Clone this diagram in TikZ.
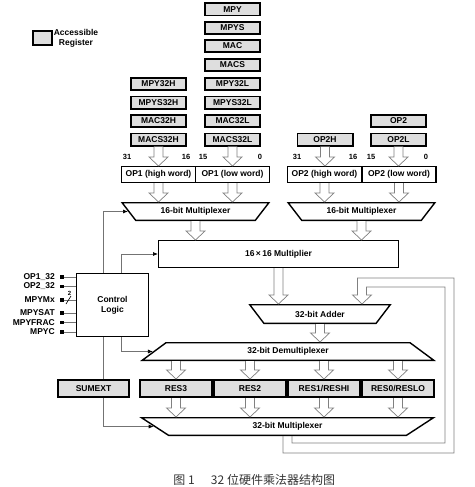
\documentclass[tikz,border=0pt]{standalone}
\usepackage{fontspec}
\setmainfont{Liberation Sans}
\newfontfamily\cjk{Noto Sans CJK SC}
\usetikzlibrary{positioning,calc,shapes.geometric,arrows.meta}
\newcommand{\lbl}{\fontsize{8.5}{10}\selectfont\bfseries}
\newcommand{\bitno}{\fontsize{7.5}{8}\selectfont\bfseries}
\tikzset{
  reg/.style={draw, line width=1.6pt, fill=black!13, minimum width=55.4, minimum height=12.4, inner sep=0, font=\lbl},
  opbox/.style={draw, line width=1.4pt, fill=white, minimum width=73.6, minimum height=15.6, inner sep=0, font=\lbl},
  trap/.style={trapezium, trapezium angle=45, trapezium stretches=true, draw, line width=1.4pt, fill=white, inner sep=0, minimum height=17.6, font=\lbl},
  hollow/.style={draw=black!50, fill=white, line width=0.7pt},
  fbline/.style={draw=black!50, line width=0.7pt},
  ctl/.style={draw=black!55, line width=0.7pt},
  ctltip/.style={-{Latex[length=5pt,width=4pt,color=black]}},
  padsq/.style={fill=black, minimum size=3.5, inner sep=0},
  padlbl/.style={font=\lbl, inner sep=0, anchor=east}
}
\newcommand{\hollowarrow}[2]{\draw[hollow] ($(#1)+(-4.5,0)$) -- ($(#2)+(-4.5,-9)$) -- ($(#2)+(-9.5,-9)$) -- (#2) -- ($(#2)+(9.5,-9)$) -- ($(#2)+(4.5,-9)$) -- ($(#1)+(4.5,0)$);}
\begin{document}
\begin{tikzpicture}[x=1pt,y=-1pt]
\useasboundingbox (0,0) rectangle (474,487);

% legend
\node[reg, minimum width=19.4, minimum height=14.4] (key) at (42.5,38) {};
\node[font=\lbl, align=center, inner sep=0] (keytext) at (76,38) {Accessible\\Register};

% OP1 source registers
\node[reg] (mpy) at (232.5,9.5) {MPY};
\node[reg] (mpys) at (232.5,28) {MPYS};
\node[reg] (mac) at (232.5,46) {MAC};
\node[reg] (macs) at (232.5,65) {MACS};
\node[reg] (mpy32h) at (158.5,84) {MPY32H};
\node[reg] (mpys32h) at (158.5,102.5) {MPYS32H};
\node[reg] (mac32h) at (158.5,121) {MAC32H};
\node[reg] (macs32h) at (158.5,139.5) {MACS32H};
\node[reg] (mpy32l) at (232.5,84) {MPY32L};
\node[reg] (mpys32l) at (232.5,102.5) {MPYS32L};
\node[reg] (mac32l) at (232.5,121) {MAC32L};
\node[reg] (macs32l) at (232.5,139.5) {MACS32L};

% OP2 source registers
\node[reg] (op2h) at (325,139.5) {OP2H};
\node[reg] (op2) at (398.5,121) {OP2};
\node[reg] (op2l) at (398.5,139.5) {OP2L};

% bit numbers
\node[font=\bitno] (b31a) at (127,157) {31};
\node[font=\bitno] (b16a) at (186,157) {16};
\node[font=\bitno] (b15a) at (203,157) {15};
\node[font=\bitno] (b0a) at (260,157) {0};
\node[font=\bitno] (b31b) at (297,157) {31};
\node[font=\bitno] (b16b) at (353,157) {16};
\node[font=\bitno] (b15b) at (371,157) {15};
\node[font=\bitno] (b0b) at (426,157) {0};

% operand words
\node[opbox] (op1hw) at (158.5,174.5) {OP1 (high word)};
\node[opbox] (op1lw) at (232.5,174.5) {OP1 (low word)};
\node[opbox] (op2hw) at (324.5,174.5) {OP2 (high word)};
\node[opbox] (op2lw) at (399,174.5) {OP2 (low word)};

% data path
\node[trap, shape border rotate=180, minimum width=147.6] (mux1) at (195.5,211.5) {16-bit Multiplexer};
\node[trap, shape border rotate=180, minimum width=147.6] (mux2) at (361.5,211.5) {16-bit Multiplexer};
\node[draw, line width=1.4pt, fill=white, minimum width=239.6, minimum height=26.6, font=\lbl] (mult) at (278.5,254) {16{\,}×{\,}16 Multiplier};
\node[trap, shape border rotate=180, minimum width=140.6, minimum height=18.6] (adder) at (320,314) {32-bit Adder};
\node[trap, minimum width=294.6] (demux) at (288,351.5) {32-bit Demultiplexer};
\node[reg, minimum width=72.4, minimum height=17.4] (res3) at (176,388.5) {RES3};
\node[reg, minimum width=72.4, minimum height=17.4] (res2) at (250,388.5) {RES2};
\node[reg, minimum width=72.4, minimum height=17.4] (res1) at (324,388.5) {RES1/RESHI};
\node[reg, minimum width=72.4, minimum height=17.4] (res0) at (398,388.5) {RES0/RESLO};
\node[trap, shape border rotate=180, minimum width=293.6] (mux32) at (287.5,426.5) {32-bit Multiplexer};

% control logic and its inputs
\node[draw, line width=1.4pt, fill=white, minimum width=71.6, minimum height=62.6, align=center, font=\lbl] (ctrl) at (112.5,305) {Control\\Logic};
\node[padsq] (p1) at (62,277) {};
\node[padsq] (p2) at (62,286.5) {};
\node[padsq] (p3) at (62,300) {};
\node[padsq] (p4) at (62,313) {};
\node[padsq] (p5) at (62,322.5) {};
\node[padsq] (p6) at (62,332) {};
\node[padlbl] (l1) at (55,277) {OP1\_32};
\node[padlbl] (l2) at (55,286.5) {OP2\_32};
\node[padlbl] (l3) at (55,300) {MPYMx};
\node[padlbl] (l4) at (55,313) {MPYSAT};
\node[padlbl] (l5) at (55,322.5) {MPYFRAC};
\node[padlbl] (l6) at (55,332) {MPYC};
\draw[ctl] (p1) -- (p1 -| ctrl.west);
\draw[ctl] (p2) -- (p2 -| ctrl.west);
\draw[ctl] (p3) -- (p3 -| ctrl.west);
\draw[ctl] (p4) -- (p4 -| ctrl.west);
\draw[ctl] (p5) -- (p5 -| ctrl.west);
\draw[ctl] (p6) -- (p6 -| ctrl.west);
\draw[black, line width=0.6pt] (66,304) -- (71,296);
\node[font=\fontsize{6}{7}\selectfont\bfseries, inner sep=0] (w2) at (69.5,293.5) {2};

% control lines
\draw[ctl, ctltip] ($(ctrl.north west)+(27,0)$) |- (mux1.west);
\draw[ctl, ctltip] ($(ctrl.north west)+(45,0)$) |- (mult.west);
\draw[ctl, ctltip] ($(ctrl.south west)+(45,0)$) |- (demux.west);
\draw[ctl, ctltip] ($(ctrl.south west)+(27,0)$) |- (mux32.west);
\node[reg, minimum width=71.4, minimum height=17.4] (sumext) at (93.5,388.5) {SUMEXT};

% wide arrows
\hollowarrow{macs32h.south}{op1hw.north}
\hollowarrow{macs32l.south}{op1lw.north}
\hollowarrow{op2h.south}{op2h.south |- op2hw.north}
\hollowarrow{op2l.south}{op2l.south |- op2lw.north}
\hollowarrow{op1hw.south}{op1hw.south |- mux1.north}
\hollowarrow{op1lw.south}{op1lw.south |- mux1.north}
\hollowarrow{op2hw.south}{op2hw.south |- mux2.north}
\hollowarrow{op2lw.south}{op2lw.south |- mux2.north}
\hollowarrow{mux1.south}{mux1.south |- mult.north}
\hollowarrow{mux2.south}{mux2.south |- mult.north}
\hollowarrow{mult.south}{mult.south |- adder.north}
\hollowarrow{adder.south}{adder.south |- demux.north}
\hollowarrow{res3.north |- demux.south}{res3.north}
\hollowarrow{res2.north |- demux.south}{res2.north}
\hollowarrow{res1.north |- demux.south}{res1.north}
\hollowarrow{res0.north |- demux.south}{res0.north}
\hollowarrow{res3.south}{res3.south |- mux32.north}
\hollowarrow{res2.south}{res2.south |- mux32.north}
\hollowarrow{res1.south}{res1.south |- mux32.north}
\hollowarrow{res0.south}{res0.south |- mux32.north}

% feedback into the adder
\coordinate (fbin) at ($(adder.north)+(42,0)$);
\draw[fbline] ($(mux32.south)+(-4.5,0)$) |- (454,453) |- ($(fbin)+(-4.5,-26)$) -- ($(fbin)+(-4.5,-9)$) -- ($(fbin)+(-9.5,-9)$) -- (fbin) -- ($(fbin)+(9.5,-9)$) -- ($(fbin)+(4.5,-9)$) -- ($(fbin)+(4.5,-17)$) -| (445,443) -| ($(mux32.south)+(4.5,0)$);

% caption
\node[font=\cjk\fontsize{12}{13}\selectfont, text=black!80] (fignum) at (184,480) {图 1};
\node[font=\cjk\fontsize{12}{13}\selectfont, text=black!80] (figtitle) at (273,480) {32 位硬件乘法器结构图};
\end{tikzpicture}
\end{document}
